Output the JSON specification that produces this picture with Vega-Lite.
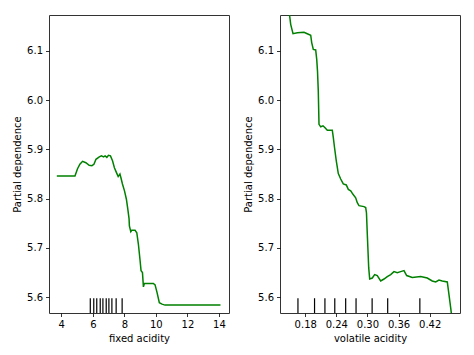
{
  "$schema": "https://vega.github.io/schema/vega-lite/v6.json",
  "padding": {"left": 12, "top": 14, "right": 0, "bottom": 0},
  "spacing": 13,
  "datasets": {
    "fa": [
      {"x": 3.715, "pd": 5.846}, {"x": 4.867, "pd": 5.846}, {"x": 5.03, "pd": 5.861}, {"x": 5.18, "pd": 5.870},
      {"x": 5.35, "pd": 5.876}, {"x": 5.56, "pd": 5.873}, {"x": 5.77, "pd": 5.868}, {"x": 5.94, "pd": 5.867},
      {"x": 6.07, "pd": 5.870}, {"x": 6.20, "pd": 5.880}, {"x": 6.41, "pd": 5.885}, {"x": 6.55, "pd": 5.887},
      {"x": 6.68, "pd": 5.885}, {"x": 6.78, "pd": 5.887}, {"x": 6.89, "pd": 5.884}, {"x": 6.99, "pd": 5.888},
      {"x": 7.12, "pd": 5.887}, {"x": 7.25, "pd": 5.877}, {"x": 7.37, "pd": 5.863}, {"x": 7.50, "pd": 5.853},
      {"x": 7.61, "pd": 5.845}, {"x": 7.72, "pd": 5.850}, {"x": 7.78, "pd": 5.843}, {"x": 7.88, "pd": 5.830},
      {"x": 8.01, "pd": 5.816}, {"x": 8.13, "pd": 5.799}, {"x": 8.22, "pd": 5.779}, {"x": 8.30, "pd": 5.759},
      {"x": 8.32, "pd": 5.745}, {"x": 8.41, "pd": 5.733}, {"x": 8.47, "pd": 5.736}, {"x": 8.68, "pd": 5.736},
      {"x": 8.79, "pd": 5.731}, {"x": 8.89, "pd": 5.708}, {"x": 9.0, "pd": 5.674}, {"x": 9.06, "pd": 5.654},
      {"x": 9.15, "pd": 5.650}, {"x": 9.21, "pd": 5.621}, {"x": 9.27, "pd": 5.628}, {"x": 9.84, "pd": 5.628},
      {"x": 9.95, "pd": 5.625}, {"x": 10.08, "pd": 5.609}, {"x": 10.22, "pd": 5.589}, {"x": 10.39, "pd": 5.586},
      {"x": 10.58, "pd": 5.584}, {"x": 14.1, "pd": 5.584}
    ],
    "fa_rug": [
      {"x": 5.84}, {"x": 6.06}, {"x": 6.25}, {"x": 6.47}, {"x": 6.64}, {"x": 6.85}, {"x": 7.02}, {"x": 7.21}, {"x": 7.48}, {"x": 7.86}
    ],
    "va": [
      {"x": 0.147, "pd": 6.187}, {"x": 0.1497, "pd": 6.174}, {"x": 0.152, "pd": 6.154}, {"x": 0.1565, "pd": 6.135},
      {"x": 0.1648, "pd": 6.137}, {"x": 0.1777, "pd": 6.138}, {"x": 0.184, "pd": 6.135}, {"x": 0.1906, "pd": 6.132},
      {"x": 0.1925, "pd": 6.117}, {"x": 0.1956, "pd": 6.103}, {"x": 0.2002, "pd": 6.102}, {"x": 0.2022, "pd": 6.083},
      {"x": 0.2037, "pd": 6.059}, {"x": 0.2052, "pd": 6.019}, {"x": 0.2066, "pd": 5.951}, {"x": 0.2099, "pd": 5.946},
      {"x": 0.2143, "pd": 5.948}, {"x": 0.2182, "pd": 5.944}, {"x": 0.2226, "pd": 5.939}, {"x": 0.2322, "pd": 5.939},
      {"x": 0.2342, "pd": 5.924}, {"x": 0.2365, "pd": 5.904}, {"x": 0.2399, "pd": 5.877}, {"x": 0.2438, "pd": 5.851},
      {"x": 0.2484, "pd": 5.840}, {"x": 0.2534, "pd": 5.830}, {"x": 0.2592, "pd": 5.828}, {"x": 0.2631, "pd": 5.819},
      {"x": 0.2677, "pd": 5.816}, {"x": 0.2721, "pd": 5.809}, {"x": 0.2773, "pd": 5.802}, {"x": 0.2804, "pd": 5.792},
      {"x": 0.2837, "pd": 5.786}, {"x": 0.2933, "pd": 5.784}, {"x": 0.2966, "pd": 5.782}, {"x": 0.2981, "pd": 5.771},
      {"x": 0.2997, "pd": 5.728}, {"x": 0.3024, "pd": 5.660}, {"x": 0.3043, "pd": 5.637}, {"x": 0.3093, "pd": 5.639},
      {"x": 0.3139, "pd": 5.646}, {"x": 0.3189, "pd": 5.644}, {"x": 0.3255, "pd": 5.633}, {"x": 0.3319, "pd": 5.637},
      {"x": 0.3382, "pd": 5.642}, {"x": 0.3448, "pd": 5.646}, {"x": 0.3511, "pd": 5.652}, {"x": 0.3575, "pd": 5.650},
      {"x": 0.3640, "pd": 5.652}, {"x": 0.3704, "pd": 5.654}, {"x": 0.3756, "pd": 5.644}, {"x": 0.3864, "pd": 5.640},
      {"x": 0.4026, "pd": 5.642}, {"x": 0.4153, "pd": 5.639}, {"x": 0.4249, "pd": 5.633}, {"x": 0.4315, "pd": 5.631},
      {"x": 0.4379, "pd": 5.635}, {"x": 0.4442, "pd": 5.633}, {"x": 0.4539, "pd": 5.631}, {"x": 0.4571, "pd": 5.606},
      {"x": 0.4604, "pd": 5.579}, {"x": 0.463, "pd": 5.556}
    ],
    "va_rug": [
      {"x": 0.166}, {"x": 0.198}, {"x": 0.218}, {"x": 0.237}, {"x": 0.258}, {"x": 0.278}, {"x": 0.309}, {"x": 0.339}, {"x": 0.401}
    ]
  },
  "hconcat": [
    {
      "width": 180,
      "height": 298,
      "layer": [
        {
          "data": {"name": "fa"},
          "mark": {"type": "line", "color": "green", "strokeWidth": 1.5, "clip": true},
          "encoding": {
            "x": {"field": "x", "type": "quantitative", "title": "fixed acidity",
                  "scale": {"domain": [3.22, 14.64], "nice": false, "zero": false},
                  "axis": {"values": [4, 6, 8, 10, 12, 14], "format": "d", "labelOverlap": false}},
            "y": {"field": "pd", "type": "quantitative", "title": "Partial dependence",
                  "scale": {"domain": [5.568, 6.173], "nice": false, "zero": false},
                  "axis": {"values": [5.6, 5.7, 5.8, 5.9, 6.0, 6.1], "format": ".1f", "labelOverlap": false}}
          }
        },
        {
          "data": {"name": "fa_rug"},
          "mark": {"type": "rule", "color": "black", "strokeWidth": 1.2},
          "encoding": {
            "x": {"field": "x", "type": "quantitative",
                  "axis": {"values": [4, 6, 8, 10, 12, 14], "format": "d", "labelOverlap": false}},
            "y": {"datum": 5.568},
            "y2": {"datum": 5.598}
          }
        }
      ]
    },
    {
      "width": 180,
      "height": 298,
      "layer": [
        {
          "data": {"name": "va"},
          "mark": {"type": "line", "color": "green", "strokeWidth": 1.5, "clip": true},
          "encoding": {
            "x": {"field": "x", "type": "quantitative", "title": "volatile acidity",
                  "scale": {"domain": [0.1314, 0.4784], "nice": false, "zero": false},
                  "axis": {"values": [0.18, 0.24, 0.30, 0.36, 0.42], "format": ".2f", "labelOverlap": false}},
            "y": {"field": "pd", "type": "quantitative", "title": "Partial dependence",
                  "scale": {"domain": [5.568, 6.173], "nice": false, "zero": false},
                  "axis": {"values": [5.6, 5.7, 5.8, 5.9, 6.0, 6.1], "format": ".1f", "labelOverlap": false}}
          }
        },
        {
          "data": {"name": "va_rug"},
          "mark": {"type": "rule", "color": "black", "strokeWidth": 1.2},
          "encoding": {
            "x": {"field": "x", "type": "quantitative",
                  "axis": {"values": [0.18, 0.24, 0.30, 0.36, 0.42], "format": ".2f", "labelOverlap": false}},
            "y": {"datum": 5.568},
            "y2": {"datum": 5.598}
          }
        }
      ]
    }
  ],
  "config": {
    "font": "DejaVu Sans",
    "view": {"stroke": "#333333", "strokeWidth": 1},
    "axis": {
      "grid": false, "domain": false, "tickColor": "#000000", "tickSize": 3.5, "tickWidth": 0.8,
      "labelFontSize": 10, "labelColor": "#000000", "labelFont": "DejaVu Sans", "labelPadding": 3, "labelFlush": false, "labelOverlap": false,
      "titleFontSize": 10, "titleFontWeight": "normal", "titleColor": "#000000", "titleFont": "DejaVu Sans", "titlePadding": 4
    }
  }
}
